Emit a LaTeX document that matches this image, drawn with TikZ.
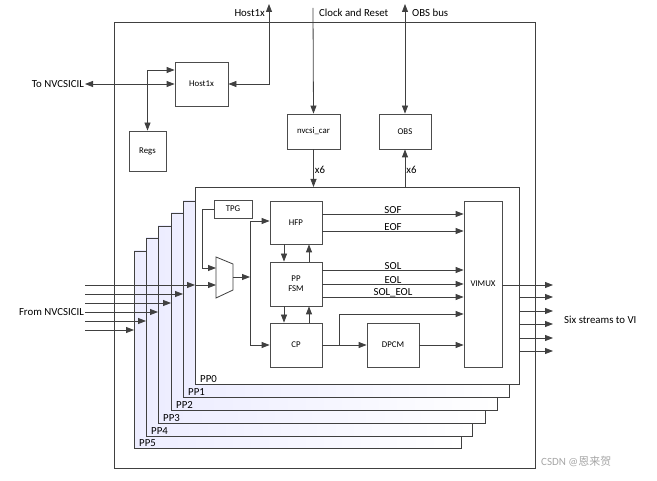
\documentclass[tikz,border=0pt]{standalone}
\usepackage{fontspec}
\setmainfont{Carlito}
\newfontfamily\cjk{Noto Sans CJK SC}
\usetikzlibrary{arrows.meta,positioning,calc}
\begin{document}
\begin{tikzpicture}[
    x=1pt, y=-1pt,
    line/.style={draw=black!75, line width=0.8pt},
    arrow/.style={line, -{Triangle[length=8pt,width=6pt]}},
    both/.style={line, {Triangle[length=8pt,width=6pt]}-{Triangle[length=8pt,width=6pt]}},
    block/.style={rectangle, draw=black!70, line width=0.8pt, fill=white, inner sep=1pt, font=\fontsize{8.8}{10}\selectfont},
    lbl/.style={font=\fontsize{10.8}{12}\selectfont, inner sep=1pt},
    sig/.style={font=\fontsize{10.8}{12}\selectfont, inner sep=0pt, above}
]
    \useasboundingbox (0,0) rectangle (657,481);

    % Outer chip box
    \draw[line] (114,22) rectangle (535,468);

    % PP layers, back to front
    \foreach \i/\l/\t/\r/\b in {5/134/251/461/448, 4/146/238/472/436, 3/158/226/485/423, 2/171/213/497/410, 1/183/201/509/397, 0/195/187/519/384} {
        \ifnum\i=0
            \draw[line, fill=white] (\l,\t) rectangle (\r,\b);
        \else
            \draw[line, left color=blue!7, right color=white] (\l,\t) rectangle (\r,\b);
        \fi
        \node[lbl, anchor=south west] (pplab\i) at (\l+4,\b) {PP\i};
        \coordinate (pp\i) at (\l,0);
    }

    % Top blocks
    \node[block, minimum width=53pt, minimum height=44pt] (host) at (201.5,84) {Host1x};
    \node[block, minimum width=37pt, minimum height=40pt] (regs) at (147.5,151) {Regs};
    \node[block, minimum width=53pt, minimum height=35pt] (car) at (313.5,131.5) {nvcsi\_car};
    \node[block, minimum width=52pt, minimum height=35pt] (obs) at (405,131.5) {OBS};

    % PP0 blocks
    \node[block, minimum width=38pt, minimum height=18pt] (tpg) at (233,209) {TPG};
    \node[block, minimum width=52pt, minimum height=43pt] (hfp) at (296,222.5) {HFP};
    \node[block, minimum width=52pt, minimum height=44pt, align=center] (fsm) at (296,284) {PP\\FSM};
    \node[block, minimum width=52pt, minimum height=44pt] (cp) at (296,345) {CP};
    \node[block, minimum width=52pt, minimum height=44pt] (dpcm) at (393,345) {DPCM};
    \node[block, minimum width=38pt, minimum height=166pt] (vimux) at (483,284) {VIMUX};

    % Mux
    \draw[line, fill=white] (216,257) -- (233,264) -- (233,290) -- (216,298) -- cycle;
    \coordinate (muxa) at (216,268);
    \coordinate (muxb) at (216,285);
    \coordinate (muxo) at (233,277);
    \coordinate (bus) at (250,277);

    % External labels
    \node[lbl, anchor=east] (tonv) at (85,84) {To NVCSICIL};
    \node[lbl, anchor=east] (fromnv) at (85,312) {From NVCSICIL};
    \node[lbl, anchor=east] (hostlab) at (266,13) {Host1x};
    \node[lbl, anchor=west] (clklab) at (318,13) {Clock and Reset};
    \node[lbl, anchor=west] (obslab) at (411,13) {OBS bus};
    \node[lbl, anchor=west] (outlab) at (563,320) {Six streams to VI};
    \node[lbl, anchor=west, text=black!35, font=\fontsize{11}{12}\selectfont] (wm) at (540,462) {CSDN @{\cjk 恩来贺}};
    \coordinate (hosttop) at (269,4);
    \coordinate (clktop) at (313,8);
    \coordinate (obstop) at (405,4);

    % Host1x connections
    \draw[both] (tonv.east) -- (host.west |- tonv);
    \draw[both] (host.east) -| (hosttop);
    \draw[both] (regs.north) |- ([yshift=14pt]host.west);
    \draw[arrow] (clktop) -- (car.north);
    \draw[both] (obstop) -- (obs.north);
    \draw[arrow] (car.south) -- (car.south |- 0,187) node[lbl, pos=0.55, right] {x6};
    \draw[arrow] (obs.south |- 0,187) -- (obs.south) node[lbl, pos=0.45, right] {x6};

    % Inputs
    \draw[arrow] (85,285) -- (pp0 |- 0,285);
    \draw[arrow] (pp0 |- 0,285) -- (muxb);
    \foreach \k/\y in {1/294, 2/303, 3/312, 4/321, 5/330}
        \draw[arrow] (85,\y) -- (pp\k |- 0,\y);
    \draw[arrow] (tpg.west) -| (202,268) -- (muxa);

    % Internal bus
    \draw[arrow] (muxo) -- (bus);
    \draw[arrow] (bus) |- ([yshift=1.5pt]hfp.west);
    \draw[arrow] (bus) |- (cp.west);
    \draw[arrow] ([xshift=-12pt]hfp.south) -- ([xshift=-12pt]fsm.north);
    \draw[arrow] ([xshift=13pt]fsm.north) -- ([xshift=13pt]hfp.south);
    \draw[arrow] ([xshift=-12pt]fsm.south) -- ([xshift=-12pt]cp.north);
    \draw[arrow] ([xshift=13pt]cp.north) -- ([xshift=13pt]fsm.south);

    % Signals to VIMUX
    \draw[arrow] (hfp.east |- 0,214) -- (vimux.west |- 0,214) node[sig, midway] {SOF};
    \draw[arrow] (hfp.east |- 0,231) -- (vimux.west |- 0,231) node[sig, midway] {EOF};
    \draw[arrow] (fsm.east |- 0,270) -- (vimux.west |- 0,270) node[sig, midway] {SOL};
    \draw[arrow] (fsm.east |- 0,284) -- (vimux.west |- 0,284) node[sig, midway] {EOL};
    \draw[arrow] (fsm.east |- 0,297) -- (vimux.west |- 0,297) node[sig, midway] {SOL\_EOL};
    \draw[arrow] (cp.east) -- (dpcm.west);
    \draw[arrow] (339,345) |- (vimux.west |- 0,314);
    \draw[arrow] (dpcm.east) -- (vimux.west |- dpcm);

    % Outputs
    \draw[arrow] (vimux.east |- 0,285) -- (553,285);
    \foreach \y in {297, 311, 324, 338, 351}
        \draw[arrow] (519,\y) -- (553,\y);
\end{tikzpicture}
\end{document}
